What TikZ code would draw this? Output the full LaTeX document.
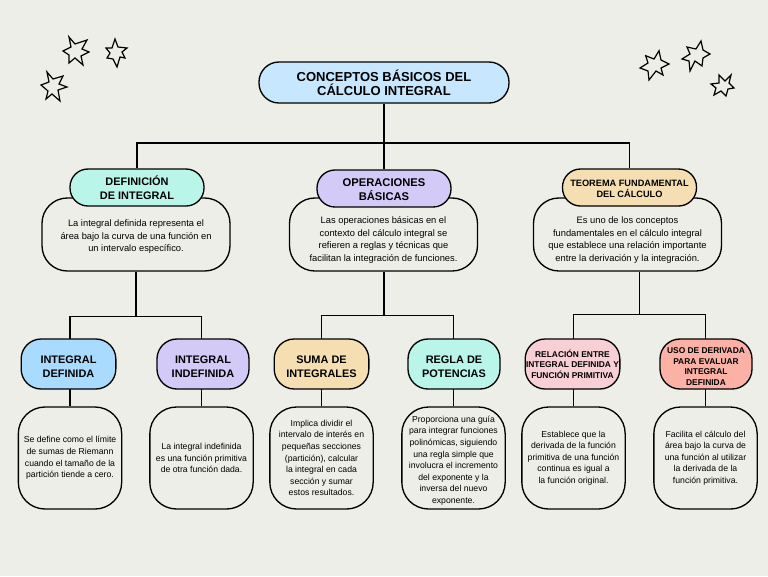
\documentclass[tikz,border=0pt]{standalone}
\usepackage{fontspec}
\setmainfont{Liberation Sans}
\usetikzlibrary{backgrounds}
\definecolor{paper}{HTML}{EEEEE9}
\definecolor{skyfill}{HTML}{C6E7FE}
\definecolor{mintfill}{HTML}{B9F6E9}
\definecolor{lilacfill}{HTML}{D4CAF8}
\definecolor{sandfill}{HTML}{F5DFB2}
\definecolor{bluefill}{HTML}{A9DBFF}
\definecolor{pinkfill}{HTML}{F9CFD6}
\definecolor{salmonfill}{HTML}{FBB1A6}
\tikzset{
 px/.style={x=.75pt,y=-.75pt},
 box/.style={draw,line width=1pt,align=center,inner sep=0pt},
 drop/.style={execute at begin node={\rule{0pt}{#1}}},
 titlebox/.style={box,minimum width=187.5pt,minimum height=30.75pt,rounded corners=15pt,font=\bfseries\fontsize{9.75}{10.6}\selectfont},
 headbox/.style={box,minimum width=100.5pt,minimum height=27.75pt,rounded corners=13.5pt,font=\bfseries\fontsize{8.2}{10.2}\selectfont},
 topbody/.style={box,fill=paper,minimum width=141pt,minimum height=54.75pt,rounded corners=19pt,font=\fontsize{7}{9.6}\selectfont},
 subhead/.style={box,minimum width=71pt,minimum height=37.5pt,rounded corners=15pt,font=\bfseries\fontsize{8.2}{10.3}\selectfont},
 subbody/.style={box,fill=paper,minimum width=77.5pt,minimum height=76.5pt,rounded corners=20pt,font=\fontsize{6.5}{8.7}\selectfont},
 smallhead/.style={font=\bfseries\fontsize{6.3}{8}\selectfont},
 wire/.style={line width=1.1pt},
 thinwire/.style={line width=.8pt},
 starline/.style={line width=.9pt,line join=miter}
}
\begin{document}
\begin{tikzpicture}[px]
\useasboundingbox (0,0) rectangle (768,576);

% main level
\node[titlebox,fill=skyfill] (title) at (384,82.5) {CONCEPTOS BÁSICOS DEL\\CÁLCULO INTEGRAL};

% first level
\node[topbody,drop=27.4pt] (defbody) at (136,234.5) {La integral definida representa el\\área bajo la curva de una función en\\un intervalo específico.};
\node[topbody,drop=42.2pt] (opebody) at (383.5,234.5) {Las operaciones básicas en el\\contexto del cálculo integral se\\refieren a reglas y técnicas que\\facilitan la integración de funciones.};
\node[topbody,drop=42.2pt] (teobody) at (627.5,234.5) {Es uno de los conceptos\\fundamentales en el cálculo integral\\que establece una relación importante\\entre la derivación y la integración.};
\node[headbox,fill=mintfill] (def) at (137,187.5) {DEFINICIÓN\\DE INTEGRAL};
\node[headbox,fill=lilacfill,font=\bfseries\fontsize{8.4}{10.2}\selectfont,drop=17.7pt] (ope) at (384,188.5) {OPERACIONES\\BÁSICAS};
\node[headbox,fill=sandfill,font=\bfseries\fontsize{6.9}{8.4}\selectfont,drop=15.7pt] (teo) at (629.5,187.5) {TEOREMA FUNDAMENTAL\\DEL CÁLCULO};

% second level
\node[subhead,fill=bluefill,drop=20pt] (intdef) at (68.5,364) {INTEGRAL\\DEFINIDA};
\node[subhead,fill=lilacfill,minimum width=69pt,drop=20pt] (intind) at (203,364) {INTEGRAL\\INDEFINIDA};
\node[subhead,fill=sandfill,drop=20pt] (suma) at (321.5,364) {SUMA DE\\INTEGRALES};
\node[subhead,fill=mintfill,minimum width=69pt,drop=20pt] (regla) at (454,364) {REGLA DE\\POTENCIAS};
\node[subhead,fill=pinkfill,smallhead] (rel) at (572.5,364) {RELACIÓN ENTRE\\INTEGRAL DEFINIDA Y\\FUNCIÓN PRIMITIVA};
\node[subhead,fill=salmonfill,smallhead,minimum width=69pt,drop=32.4pt] (uso) at (706,364) {USO DE DERIVADA\\PARA EVALUAR\\INTEGRAL\\DEFINIDA};

\node[subbody] (intdefbody) at (70,458) {Se define como el límite\\de sumas de Riemann\\cuando el tamaño de la\\partición tiende a cero.};
\node[subbody] (intindbody) at (201.5,458) {La integral indefinida\\es una función primitiva\\de otra función dada.};
\node[subbody] (sumabody) at (321.5,458) {Implica dividir el\\intervalo de interés en\\pequeñas secciones\\(partición), calcular\\la integral en cada\\sección y sumar\\estos resultados.};
\node[subbody,drop=69.5pt] (reglabody) at (453.5,458) {Proporciona una guía\\para integrar funciones\\polinómicas, siguiendo\\una regla simple que\\involucra el incremento\\del exponente y la\\inversa del nuevo\\exponente.};
\node[subbody] (relbody) at (573.5,458) {Establece que la\\derivada de la función\\primitiva de una función\\continua es igual a\\la función original.};
\node[subbody] (usobody) at (705.5,458) {Facilita el cálculo del\\área bajo la curva de\\una función al utilizar\\la derivada de la\\función primitiva.};

% joints
\coordinate (topjoint) at (384,143);
\coordinate (defjoint) at (136,316.5);
\coordinate (opejoint) at (384,315.5);
\coordinate (teojoint) at (639.5,314.5);

\begin{pgfonlayer}{background}
\fill[paper] (0,0) rectangle (768,576);

\draw[wire] (title.south) -- (ope.north);
\draw[wire] (def.north) |- (topjoint) -| (teo.north);

\draw[thinwire] (defbody.south) -- (defjoint);
\draw[thinwire] (intdefbody.north) |- (defjoint) -| (intindbody.north);
\draw[thinwire] (opebody.south -| opejoint) -- (opejoint);
\draw[thinwire] (sumabody.north) |- (opejoint) -| (reglabody.north);
\draw[thinwire] (teobody.south -| teojoint) -- (teojoint);
\draw[thinwire] (relbody.north) |- (teojoint) -| (usobody.north);
\end{pgfonlayer}

% stars
\begin{scope}[starline]
\draw (69,37) -- (75,44) -- (87,40) -- (82,49) -- (89,52) -- (81,56) -- (83,65) -- (75,58) -- (69,63) -- (69,55) -- (63,51) -- (71,47) -- cycle;
\draw (115,39) -- (118,47) -- (127,48) -- (122,52) -- (125,58) -- (120,57) -- (117,67) -- (113,59) -- (107,58) -- (110,53) -- (106,48) -- (112,48) -- cycle;
\draw (47,72) -- (53,79) -- (63,76) -- (59,84) -- (67,87) -- (58,90) -- (60,101) -- (52,94) -- (46,99) -- (48,91) -- (41,85) -- (49,82) -- cycle;
\draw (645.7,55.7) -- (654,59) -- (659,50.7) -- (661,60) -- (669,64) -- (661,68) -- (663,75) -- (656,71) -- (649,80) -- (648,71) -- (640,68) -- (648,63) -- cycle;
\draw (687,47) -- (696,49) -- (701,41) -- (703,50) -- (710,54) -- (703,58) -- (702,66) -- (695,61) -- (690,71) -- (689,61) -- (682,59) -- (690,54) -- cycle;
\draw (719,75) -- (725,81) -- (731,75) -- (729,83) -- (734,88) -- (728,89) -- (726,96) -- (721,91) -- (714,95) -- (716,88) -- (711,84) -- (719,83) -- cycle;
\end{scope}
\end{tikzpicture}
\end{document}
